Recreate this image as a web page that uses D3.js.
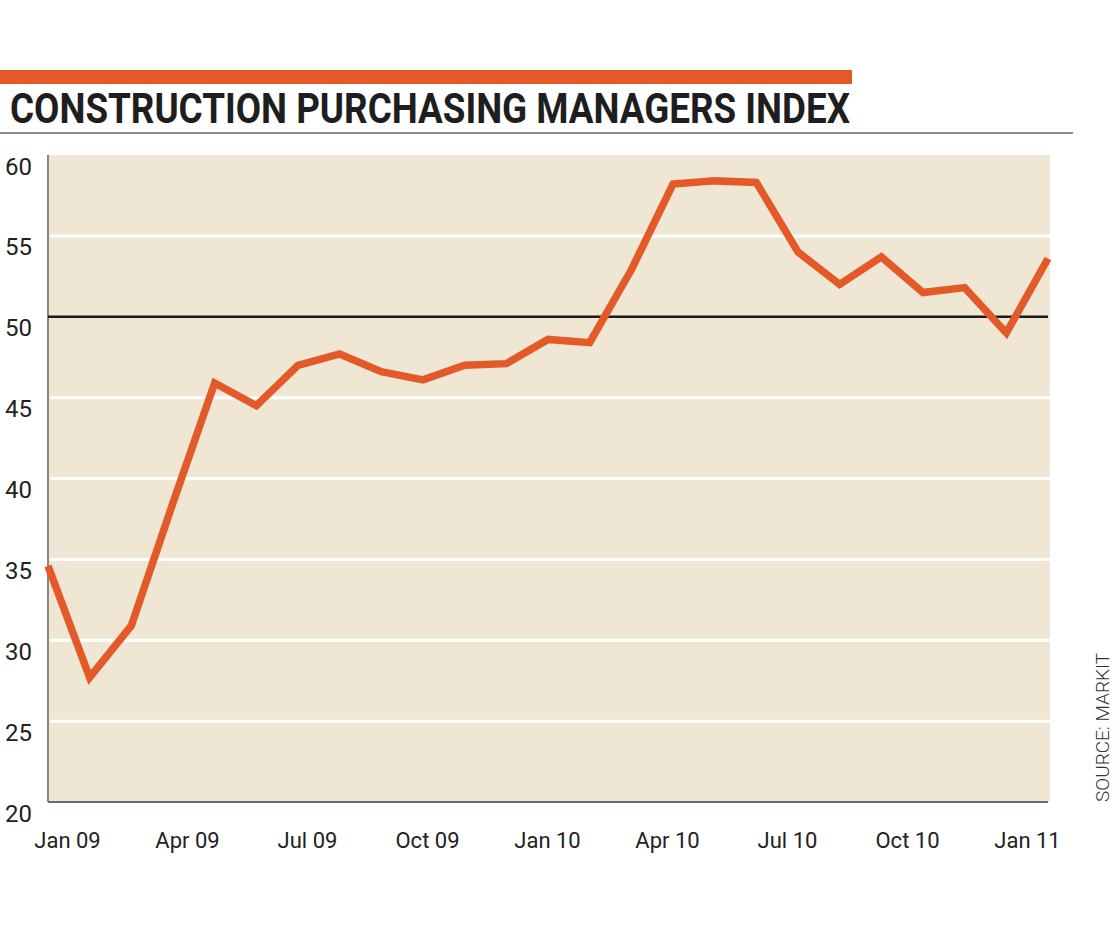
<!DOCTYPE html>
<html>
<head>
<meta charset="utf-8">
<script src="https://cdn.jsdelivr.net/npm/d3@7"></script>
<style>
  body { margin: 0; background: #fff; }
  svg { display: block; }
</style>
</head>
<body>
<svg></svg>
<script>
const months = ['Jan 09','Feb 09','Mar 09','Apr 09','May 09','Jun 09','Jul 09','Aug 09','Sep 09','Oct 09','Nov 09','Dec 09',
                'Jan 10','Feb 10','Mar 10','Apr 10','May 10','Jun 10','Jul 10','Aug 10','Sep 10','Oct 10','Nov 10','Dec 10','Jan 11'];
const pmi = [34.6, 27.7, 30.9, 38.5, 45.9, 44.5, 47.0, 47.7, 46.6, 46.1, 47.0, 47.1,
             48.6, 48.4, 52.9, 58.2, 58.4, 58.3, 54.0, 52.0, 53.7, 51.5, 51.8, 49.0, 53.6];
const xLabels = ['Jan 09','Apr 09','Jul 09','Oct 09','Jan 10','Apr 10','Jul 10','Oct 10','Jan 11'];
const yTicks = [20, 25, 30, 35, 40, 45, 50, 55, 60];
const title = 'CONSTRUCTION PURCHASING MANAGERS INDEX';
const source = 'SOURCE: MARKIT';

const w = 1120;
const h = 945;
const pLeft = 48, pRight = 1050, pTop = 155, pBottom = 802;
const orange = '#e35a28';

let svg = d3.select('svg').attr('width', w).attr('height', h);

// header
svg.append('rect')
   .attr('x', 0).attr('y', 70).attr('width', 852).attr('height', 14)
   .attr('fill', orange);

svg.append('text')
   .attr('x', 10).attr('y', 123)
   .attr('textLength', 840).attr('lengthAdjust', 'spacingAndGlyphs')
   .attr('font-family', 'Roboto, "DejaVu Sans Condensed", sans-serif')
   .attr('font-weight', 'bold').attr('font-size', 42)
   .attr('fill', '#1e1e1e')
   .text(title);

svg.append('line')
   .attr('x1', 0).attr('x2', 1073).attr('y1', 133).attr('y2', 133)
   .attr('stroke', '#666').attr('stroke-width', 1.5);

// scales
let xScale = d3.scaleLinear().domain([0, months.length - 1]).range([pLeft, 1048]);
let yScale = d3.scaleLinear().domain([20, 60]).range([pBottom, pTop]);
let labelScale = d3.scalePoint().domain(xLabels).range([67, 1027]);

// plot background
svg.append('rect')
   .attr('x', pLeft).attr('y', pTop)
   .attr('width', pRight - pLeft).attr('height', pBottom - pTop)
   .attr('fill', '#efe7d4');

// grid
svg.append('g')
   .selectAll('line')
   .data(yTicks.filter(d => d !== 20 && d !== 60 && d !== 50))
   .enter()
   .append('line')
   .attr('x1', pLeft + 2).attr('x2', pRight)
   .attr('y1', d => yScale(d)).attr('y2', d => yScale(d))
   .attr('stroke', '#fff').attr('stroke-width', 3);

// axes lines
svg.append('line')
   .attr('x1', pLeft).attr('x2', pLeft).attr('y1', pTop).attr('y2', pBottom)
   .attr('stroke', '#8a8680').attr('stroke-width', 2);
svg.append('line')
   .attr('x1', pLeft).attr('x2', 1048).attr('y1', pBottom).attr('y2', pBottom)
   .attr('stroke', '#6e6b66').attr('stroke-width', 2);

// 50 reference line
svg.append('line')
   .attr('x1', pLeft).attr('x2', 1048)
   .attr('y1', yScale(50)).attr('y2', yScale(50))
   .attr('stroke', '#1a1a1a').attr('stroke-width', 2.5);

// y labels
let yAxis = d3.axisLeft(yScale).tickValues(yTicks).tickSize(0).tickPadding(0);
let yg = svg.append('g')
   .attr('transform', `translate(32, 0)`)
   .call(yAxis);
yg.select('.domain').remove();
yg.selectAll('text')
  .attr('dy', 0).attr('y', 19)
  .attr('font-family', 'Roboto, sans-serif')
  .attr('font-size', 24).attr('fill', '#222');

// x labels
let xAxis = d3.axisBottom(labelScale).tickSize(0).tickPadding(0);
let xg = svg.append('g')
   .attr('transform', `translate(0, 848)`)
   .call(xAxis);
xg.select('.domain').remove();
xg.selectAll('text')
  .attr('dy', 0).attr('y', 0)
  .attr('font-family', 'Roboto, sans-serif')
  .attr('font-size', 22).attr('fill', '#222');

// line
let line = d3.line()
   .x((d, i) => xScale(i))
   .y(d => yScale(d));

svg.append('path')
   .datum(pmi)
   .attr('d', line)
   .attr('fill', 'none')
   .attr('stroke', orange)
   .attr('stroke-width', 7.5)
   .attr('stroke-linejoin', 'miter');

// source
svg.append('text')
   .attr('transform', 'translate(1109, 802) rotate(-90)')
   .attr('font-family', 'Roboto, sans-serif')
   .attr('font-weight', 300)
   .attr('font-size', 19)
   .attr('fill', '#333')
   .text(source);
</script>
</body>
</html>
